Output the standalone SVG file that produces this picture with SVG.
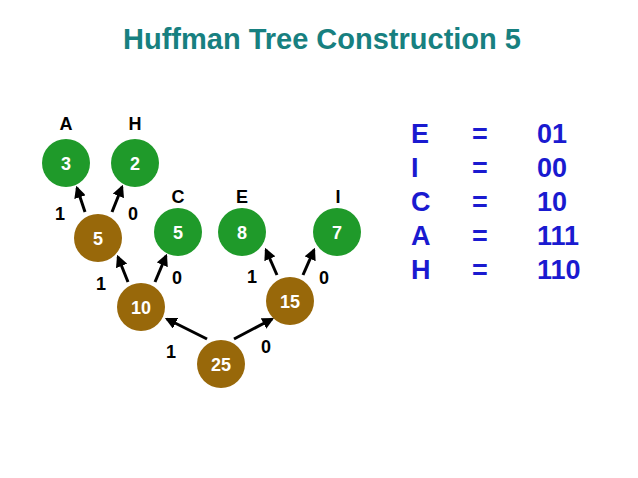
<svg xmlns="http://www.w3.org/2000/svg" width="638" height="478" viewBox="0 0 638 478">
<style>
text{font-family:"Liberation Sans",Arial,sans-serif;font-weight:bold}
.g{fill:#1f9a2a}.b{fill:#98680a}
.n{fill:#fff;font-size:18px;text-anchor:middle}
.l{fill:#000;font-size:18px;text-anchor:middle}
.t{fill:#1a1ad0;font-size:27px}
.e{stroke:#000;stroke-width:3;fill:none;marker-end:url(#a)}
</style>
<defs><marker id="a" viewBox="0 0 10 10" refX="8" refY="5" markerWidth="4" markerHeight="4" orient="auto"><path d="M0,0L10,5L0,10z" fill="#000"/></marker></defs>
<rect width="638" height="478" fill="#fff"/>
<text x="322" y="49" text-anchor="middle" font-size="29" fill="#178080">Huffman Tree Construction 5</text>
<g id="edges">
<line class="e" x1="85" y1="212" x2="77" y2="188"/>
<line class="e" x1="112" y1="212" x2="122" y2="187"/>
<line class="e" x1="128" y1="282" x2="118" y2="257"/>
<line class="e" x1="155" y1="282" x2="166" y2="256"/>
<line class="e" x1="277" y1="275" x2="266" y2="250"/>
<line class="e" x1="303" y1="275" x2="314" y2="250"/>
<line class="e" x1="207" y1="339" x2="167" y2="319"/>
<line class="e" x1="234" y1="339" x2="272" y2="319"/>
<text class="l" x="60" y="220">1</text><text class="l" x="133" y="220">0</text>
<text class="l" x="101" y="290">1</text><text class="l" x="177" y="284">0</text>
<text class="l" x="252" y="283">1</text><text class="l" x="324" y="284">0</text>
<text class="l" x="171" y="358">1</text><text class="l" x="266" y="353">0</text>
</g>
<g id="nA"><circle class="g" cx="66" cy="163" r="24"/><text class="n" x="66" y="170">3</text><text class="l" x="66" y="130">A</text></g>
<g id="nH"><circle class="g" cx="135" cy="163" r="24"/><text class="n" x="135" y="170">2</text><text class="l" x="135" y="130">H</text></g>
<g id="n5"><circle class="b" cx="98" cy="238" r="24"/><text class="n" x="98" y="245">5</text></g>
<g id="nC"><circle class="g" cx="178" cy="232" r="24"/><text class="n" x="178" y="239">5</text><text class="l" x="178" y="203">C</text></g>
<g id="nE"><circle class="g" cx="242" cy="232" r="24"/><text class="n" x="242" y="239">8</text><text class="l" x="242" y="203">E</text></g>
<g id="nI"><circle class="g" cx="337" cy="232" r="24"/><text class="n" x="337" y="239">7</text><text class="l" x="338" y="203">I</text></g>
<g id="n10"><circle class="b" cx="141" cy="307" r="24"/><text class="n" x="141" y="314">10</text></g>
<g id="n15"><circle class="b" cx="290" cy="301" r="24"/><text class="n" x="290" y="308">15</text></g>
<g id="n25"><circle class="b" cx="221" cy="364" r="24"/><text class="n" x="221" y="371">25</text></g>
<g id="table">
<text class="t" x="411" y="143">E</text><text class="t" x="472" y="143">=</text><text class="t" x="537" y="143">01</text>
<text class="t" x="411" y="177">I</text><text class="t" x="472" y="177">=</text><text class="t" x="537" y="177">00</text>
<text class="t" x="411" y="211">C</text><text class="t" x="472" y="211">=</text><text class="t" x="537" y="211">10</text>
<text class="t" x="411" y="245">A</text><text class="t" x="472" y="245">=</text><text class="t" x="537" y="245">111</text>
<text class="t" x="411" y="279">H</text><text class="t" x="472" y="279">=</text><text class="t" x="537" y="279">110</text>
</g>
</svg>
